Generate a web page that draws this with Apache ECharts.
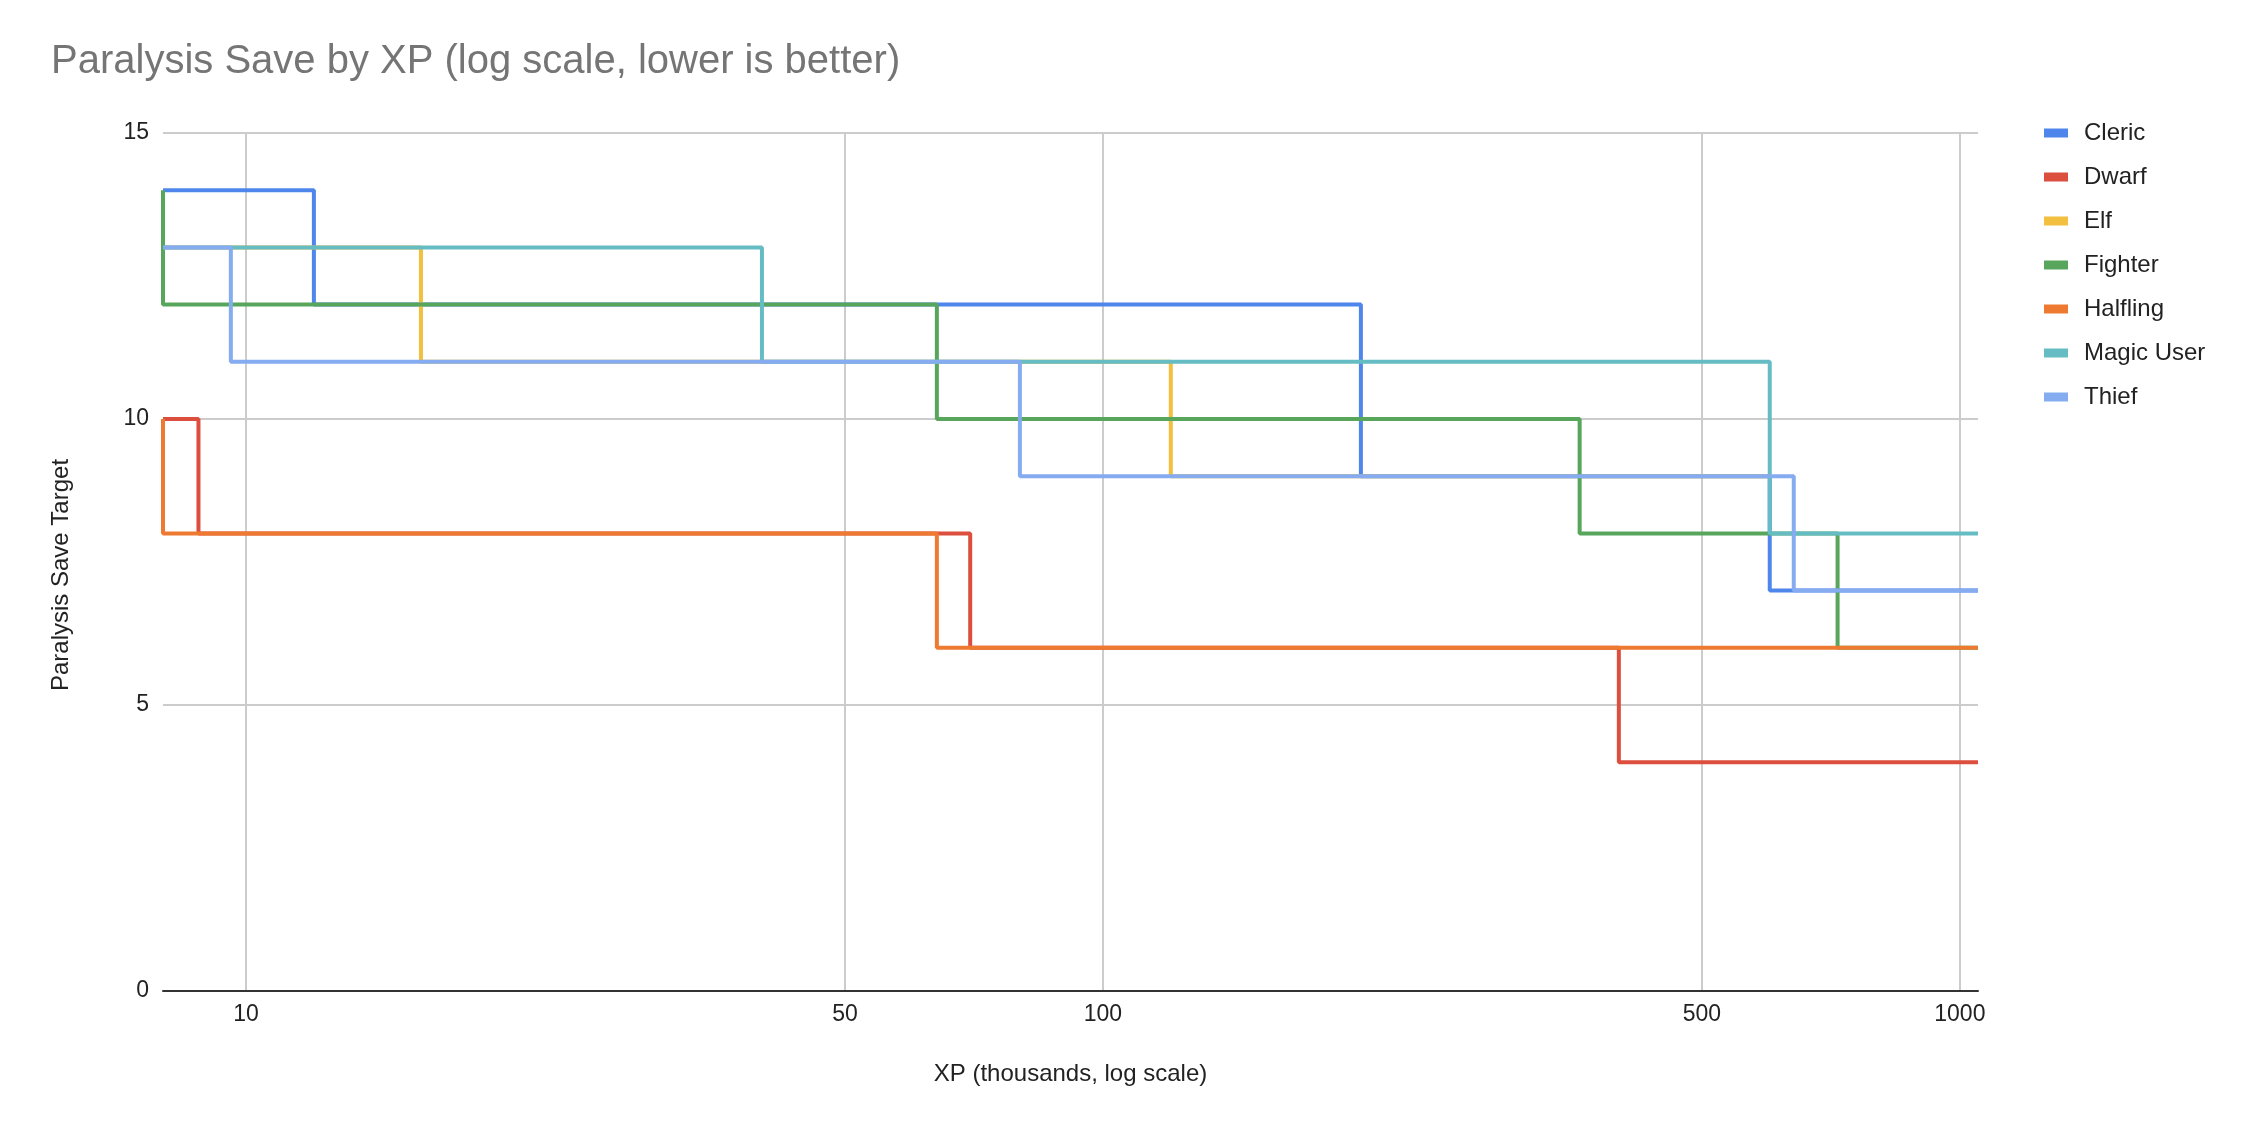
<!DOCTYPE html>
<html>
<head>
<meta charset="utf-8">
<title>Paralysis Save by XP</title>
<script src="https://cdn.jsdelivr.net/npm/echarts@6/dist/echarts.min.js"></script>
<style>
  html, body { margin: 0; padding: 0; background: #fff; }
  #chart { width: 2258px; height: 1134px; }
</style>
</head>
<body>
<div id="chart"></div>
<script>
// [xp in thousands, paralysis save target]
const cleric   = [[8, 14], [12, 12], [200, 9], [600, 7], [1050, 7]]
const dwarf    = [[8, 10], [8.8, 8], [70, 6], [400, 4], [1050, 4]]
const elf      = [[8, 13], [16, 11], [120, 9], [600, 9]]
const fighter  = [[8, 14], [8, 12], [64, 10], [360, 8], [720, 6], [1050, 6]]
const halfling = [[8, 10], [8, 8], [64, 6], [1050, 6]]
const magicUser = [[8, 13], [40, 11], [600, 8], [1050, 8]]
const thief    = [[8, 13], [9.6, 11], [80, 9], [640, 7], [1050, 7]]

const xTicks = [10, 50, 100, 500, 1000]

const font = '"Liberation Sans", Arial, sans-serif'

const classes = [
  { name: 'Cleric', data: cleric, color: '#4f86ec' },
  { name: 'Dwarf', data: dwarf, color: '#dc4f3f' },
  { name: 'Elf', data: elf, color: '#f2bf3e' },
  { name: 'Fighter', data: fighter, color: '#57a65c' },
  { name: 'Halfling', data: halfling, color: '#ee7a31' },
  { name: 'Magic User', data: magicUser, color: '#66bcc3' },
  { name: 'Thief', data: thief, color: '#85acf1' },
]

const myChart = echarts.init(document.getElementById('chart'))
myChart.setOption({
  animation: false,
  textStyle: { fontFamily: font },
  title: {
    text: 'Paralysis Save by XP (log scale, lower is better)',
    left: 46,
    top: 37,
    textStyle: { fontSize: 40, fontWeight: 'normal', color: '#757575', fontFamily: font },
  },
  legend: {
    orient: 'vertical',
    left: 2039,
    top: 116,
    icon: 'rect',
    itemWidth: 24,
    itemHeight: 9,
    itemGap: 20,
    textStyle: { fontSize: 24, color: '#222', padding: [0, 0, 0, 11], fontFamily: font },
    data: classes.map(c => c.name),
  },
  grid: {
    left: 163,
    right: 280,
    top: 133,
    bottom: 143,
  },
  xAxis: {
    type: 'log',
    logBase: 10,
    min: 8,
    max: 1050,
    name: 'XP (thousands, log scale)',
    nameLocation: 'middle',
    nameGap: 71,
    nameTextStyle: { fontSize: 24, color: '#222', fontFamily: font },
    axisLine: { show: true, lineStyle: { color: '#333', width: 2 } },
    axisTick: { show: false, customValues: xTicks },
    axisLabel: {
      customValues: xTicks,
      fontSize: 23,
      color: '#222',
      margin: 12,
      formatter: v => String(Math.round(v)),
    },
    splitLine: { show: true, lineStyle: { color: '#cccccc', width: 2 } },
    minorSplitLine: { show: false },
  },
  yAxis: {
    type: 'value',
    min: 0,
    max: 15,
    interval: 5,
    name: 'Paralysis Save Target',
    nameLocation: 'middle',
    nameGap: 90,
    nameTextStyle: { fontSize: 24, color: '#222', fontFamily: font, padding: [0, 26, 0, 0] },
    axisLine: { show: false },
    axisTick: { show: false },
    axisLabel: { fontSize: 23, color: '#222', margin: 14 },
    splitLine: { show: true, lineStyle: { color: '#cccccc', width: 2 } },
  },
  series: classes.map(c => ({
    name: c.name,
    type: 'line',
    step: 'end',
    data: c.data,
    symbol: 'none',
    showSymbol: false,
    clip: false,
    lineStyle: { width: 4, color: c.color },
    itemStyle: { color: c.color },
    emphasis: { disabled: true },
  })),
})
</script>
</body>
</html>
